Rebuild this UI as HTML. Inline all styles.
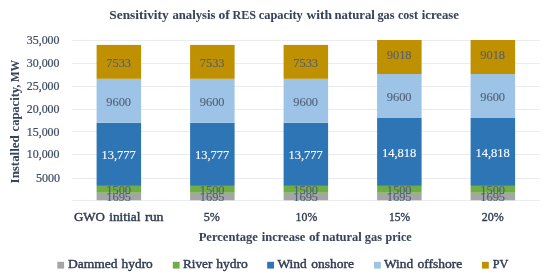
<!DOCTYPE html>
<html><head><meta charset="utf-8"><title>Sensitivity analysis of RES capacity</title>
<style>
html,body{margin:0;padding:0;background:#fff;}
svg{display:block;font-family:"Liberation Serif","DejaVu Serif",serif;}
</style></head><body>
<svg width="550" height="280" viewBox="0 0 550 280">
<rect width="550" height="280" fill="#fff"/>
<rect x="72.1" y="200" width="467.5" height="1" fill="#E9ECF1"/>
<rect x="72.1" y="178" width="467.5" height="1" fill="#E9ECF1"/>
<rect x="72.1" y="154" width="467.5" height="1" fill="#E9ECF1"/>
<rect x="72.1" y="131" width="467.5" height="1" fill="#E9ECF1"/>
<rect x="72.1" y="109" width="467.5" height="1" fill="#E9ECF1"/>
<rect x="72.1" y="86" width="467.5" height="1" fill="#E9ECF1"/>
<rect x="72.1" y="63" width="467.5" height="1" fill="#E9ECF1"/>
<rect x="72.1" y="40" width="467.5" height="1" fill="#E9ECF1"/>
<text y="181.90" font-size="12" fill="#3E4C63" stroke="#3E4C63" stroke-width="0.22"><tspan x="36.0" textLength="24.0" lengthAdjust="spacingAndGlyphs">5000</tspan></text>
<text y="158.40" font-size="12" fill="#3E4C63" stroke="#3E4C63" stroke-width="0.22"><tspan x="26.8" textLength="32.7" lengthAdjust="spacingAndGlyphs">10,000</tspan></text>
<text y="135.50" font-size="12" fill="#3E4C63" stroke="#3E4C63" stroke-width="0.22"><tspan x="26.8" textLength="32.7" lengthAdjust="spacingAndGlyphs">15,000</tspan></text>
<text y="112.60" font-size="12" fill="#3E4C63" stroke="#3E4C63" stroke-width="0.22"><tspan x="26.8" textLength="32.7" lengthAdjust="spacingAndGlyphs">20,000</tspan></text>
<text y="89.70" font-size="12" fill="#3E4C63" stroke="#3E4C63" stroke-width="0.22"><tspan x="26.8" textLength="32.7" lengthAdjust="spacingAndGlyphs">25,000</tspan></text>
<text y="66.80" font-size="12" fill="#3E4C63" stroke="#3E4C63" stroke-width="0.22"><tspan x="26.8" textLength="32.7" lengthAdjust="spacingAndGlyphs">30,000</tspan></text>
<text y="43.90" font-size="12" fill="#3E4C63" stroke="#3E4C63" stroke-width="0.22"><tspan x="26.8" textLength="32.7" lengthAdjust="spacingAndGlyphs">35,000</tspan></text>
<clipPath id="pc"><rect x="72.1" y="39.900000000000006" width="467.5" height="160.60000000000002"/></clipPath>
<g clip-path="url(#pc)">
<rect x="96.60" y="192.74" width="44.5" height="7.76" fill="#A5A5A5"/>
<rect x="96.60" y="185.87" width="44.5" height="6.87" fill="#70AD47"/>
<rect x="96.60" y="122.77" width="44.5" height="63.10" fill="#2E75B6"/>
<rect x="96.60" y="78.80" width="44.5" height="43.97" fill="#9DC3E6"/>
<rect x="96.60" y="44.90" width="44.5" height="33.90" fill="#BF9000"/>
<rect x="190.10" y="192.74" width="44.5" height="7.76" fill="#A5A5A5"/>
<rect x="190.10" y="185.87" width="44.5" height="6.87" fill="#70AD47"/>
<rect x="190.10" y="122.77" width="44.5" height="63.10" fill="#2E75B6"/>
<rect x="190.10" y="78.80" width="44.5" height="43.97" fill="#9DC3E6"/>
<rect x="190.10" y="44.90" width="44.5" height="33.90" fill="#BF9000"/>
<rect x="283.60" y="192.74" width="44.5" height="7.76" fill="#A5A5A5"/>
<rect x="283.60" y="185.87" width="44.5" height="6.87" fill="#70AD47"/>
<rect x="283.60" y="122.77" width="44.5" height="63.10" fill="#2E75B6"/>
<rect x="283.60" y="78.80" width="44.5" height="43.97" fill="#9DC3E6"/>
<rect x="283.60" y="44.90" width="44.5" height="33.90" fill="#BF9000"/>
<rect x="377.10" y="192.74" width="44.5" height="7.76" fill="#A5A5A5"/>
<rect x="377.10" y="185.87" width="44.5" height="6.87" fill="#70AD47"/>
<rect x="377.10" y="118.00" width="44.5" height="67.87" fill="#2E75B6"/>
<rect x="377.10" y="74.03" width="44.5" height="43.97" fill="#9DC3E6"/>
<rect x="377.10" y="32.73" width="44.5" height="41.30" fill="#BF9000"/>
<rect x="470.60" y="192.74" width="44.5" height="7.76" fill="#A5A5A5"/>
<rect x="470.60" y="185.87" width="44.5" height="6.87" fill="#70AD47"/>
<rect x="470.60" y="118.00" width="44.5" height="67.87" fill="#2E75B6"/>
<rect x="470.60" y="74.03" width="44.5" height="43.97" fill="#9DC3E6"/>
<rect x="470.60" y="32.73" width="44.5" height="41.30" fill="#BF9000"/>
</g>
<text y="201.42" font-size="12.4" fill="#52617A" stroke="#52617A" stroke-width="0.12"><tspan x="106.2" textLength="24.9" lengthAdjust="spacingAndGlyphs">1695</tspan></text>
<text y="194.10" font-size="12.4" fill="#52617A" stroke="#52617A" stroke-width="0.12"><tspan x="106.2" textLength="24.9" lengthAdjust="spacingAndGlyphs">1500</tspan></text>
<text y="159.12" font-size="12.4" fill="#FFFFFF" stroke="#FFFFFF" stroke-width="0.1"><tspan x="101.4" textLength="34.5" lengthAdjust="spacingAndGlyphs">13,777</tspan></text>
<text y="105.58" font-size="12.4" fill="#52617A" stroke="#52617A" stroke-width="0.12"><tspan x="106.2" textLength="24.9" lengthAdjust="spacingAndGlyphs">9600</tspan></text>
<text y="66.65" font-size="12.4" fill="#52617A" stroke="#52617A" stroke-width="0.12"><tspan x="106.2" textLength="24.9" lengthAdjust="spacingAndGlyphs">7533</tspan></text>
<text y="201.42" font-size="12.4" fill="#52617A" stroke="#52617A" stroke-width="0.12"><tspan x="199.7" textLength="24.9" lengthAdjust="spacingAndGlyphs">1695</tspan></text>
<text y="194.10" font-size="12.4" fill="#52617A" stroke="#52617A" stroke-width="0.12"><tspan x="199.7" textLength="24.9" lengthAdjust="spacingAndGlyphs">1500</tspan></text>
<text y="159.12" font-size="12.4" fill="#FFFFFF" stroke="#FFFFFF" stroke-width="0.1"><tspan x="194.9" textLength="34.5" lengthAdjust="spacingAndGlyphs">13,777</tspan></text>
<text y="105.58" font-size="12.4" fill="#52617A" stroke="#52617A" stroke-width="0.12"><tspan x="199.7" textLength="24.9" lengthAdjust="spacingAndGlyphs">9600</tspan></text>
<text y="66.65" font-size="12.4" fill="#52617A" stroke="#52617A" stroke-width="0.12"><tspan x="199.7" textLength="24.9" lengthAdjust="spacingAndGlyphs">7533</tspan></text>
<text y="201.42" font-size="12.4" fill="#52617A" stroke="#52617A" stroke-width="0.12"><tspan x="293.2" textLength="24.9" lengthAdjust="spacingAndGlyphs">1695</tspan></text>
<text y="194.10" font-size="12.4" fill="#52617A" stroke="#52617A" stroke-width="0.12"><tspan x="293.2" textLength="24.9" lengthAdjust="spacingAndGlyphs">1500</tspan></text>
<text y="159.12" font-size="12.4" fill="#FFFFFF" stroke="#FFFFFF" stroke-width="0.1"><tspan x="288.4" textLength="34.5" lengthAdjust="spacingAndGlyphs">13,777</tspan></text>
<text y="105.58" font-size="12.4" fill="#52617A" stroke="#52617A" stroke-width="0.12"><tspan x="293.2" textLength="24.9" lengthAdjust="spacingAndGlyphs">9600</tspan></text>
<text y="66.65" font-size="12.4" fill="#52617A" stroke="#52617A" stroke-width="0.12"><tspan x="293.2" textLength="24.9" lengthAdjust="spacingAndGlyphs">7533</tspan></text>
<text y="201.42" font-size="12.4" fill="#52617A" stroke="#52617A" stroke-width="0.12"><tspan x="386.7" textLength="24.9" lengthAdjust="spacingAndGlyphs">1695</tspan></text>
<text y="194.10" font-size="12.4" fill="#52617A" stroke="#52617A" stroke-width="0.12"><tspan x="386.7" textLength="24.9" lengthAdjust="spacingAndGlyphs">1500</tspan></text>
<text y="156.73" font-size="12.4" fill="#FFFFFF" stroke="#FFFFFF" stroke-width="0.1"><tspan x="381.9" textLength="34.5" lengthAdjust="spacingAndGlyphs">14,818</tspan></text>
<text y="100.82" font-size="12.4" fill="#52617A" stroke="#52617A" stroke-width="0.12"><tspan x="386.7" textLength="24.9" lengthAdjust="spacingAndGlyphs">9600</tspan></text>
<text y="59.18" font-size="12.4" fill="#52617A" stroke="#52617A" stroke-width="0.12"><tspan x="386.7" textLength="24.9" lengthAdjust="spacingAndGlyphs">9018</tspan></text>
<text y="201.42" font-size="12.4" fill="#52617A" stroke="#52617A" stroke-width="0.12"><tspan x="480.2" textLength="24.9" lengthAdjust="spacingAndGlyphs">1695</tspan></text>
<text y="194.10" font-size="12.4" fill="#52617A" stroke="#52617A" stroke-width="0.12"><tspan x="480.2" textLength="24.9" lengthAdjust="spacingAndGlyphs">1500</tspan></text>
<text y="156.73" font-size="12.4" fill="#FFFFFF" stroke="#FFFFFF" stroke-width="0.1"><tspan x="475.4" textLength="34.5" lengthAdjust="spacingAndGlyphs">14,818</tspan></text>
<text y="100.82" font-size="12.4" fill="#52617A" stroke="#52617A" stroke-width="0.12"><tspan x="480.2" textLength="24.9" lengthAdjust="spacingAndGlyphs">9600</tspan></text>
<text y="59.18" font-size="12.4" fill="#52617A" stroke="#52617A" stroke-width="0.12"><tspan x="480.2" textLength="24.9" lengthAdjust="spacingAndGlyphs">9018</tspan></text>
<text y="221.4" font-size="12" fill="#303C52" stroke="#303C52" stroke-width="0.4"><tspan x="74.0" textLength="31.0" lengthAdjust="spacingAndGlyphs">GWO</tspan> <tspan x="109.2" textLength="31.2" lengthAdjust="spacingAndGlyphs">initial</tspan> <tspan x="145.0" textLength="18.6" lengthAdjust="spacingAndGlyphs">run</tspan></text>
<text y="221.4" font-size="12" fill="#303C52" stroke="#303C52" stroke-width="0.35"><tspan x="203.8" textLength="16.2" lengthAdjust="spacingAndGlyphs">5%</tspan></text>
<text y="221.4" font-size="12" fill="#303C52" stroke="#303C52" stroke-width="0.35"><tspan x="295.6" textLength="21.6" lengthAdjust="spacingAndGlyphs">10%</tspan></text>
<text y="221.4" font-size="12" fill="#303C52" stroke="#303C52" stroke-width="0.35"><tspan x="389.0" textLength="21.2" lengthAdjust="spacingAndGlyphs">15%</tspan></text>
<text y="221.4" font-size="12" fill="#303C52" stroke="#303C52" stroke-width="0.35"><tspan x="481.8" textLength="22.0" lengthAdjust="spacingAndGlyphs">20%</tspan></text>
<text y="19" font-size="12" fill="#37445A" font-weight="bold" stroke="#37445A" stroke-width="0.05"><tspan x="109.3" textLength="59.4" lengthAdjust="spacingAndGlyphs">Sensitivity</tspan> <tspan x="172.4" textLength="43.1" lengthAdjust="spacingAndGlyphs">analysis</tspan> <tspan x="218.5" textLength="11.3" lengthAdjust="spacingAndGlyphs">of</tspan> <tspan x="232.5" textLength="23.5" lengthAdjust="spacingAndGlyphs">RES</tspan> <tspan x="258.8" textLength="44.0" lengthAdjust="spacingAndGlyphs">capacity</tspan> <tspan x="306.5" textLength="25.5" lengthAdjust="spacingAndGlyphs">with</tspan> <tspan x="334.5" textLength="40.3" lengthAdjust="spacingAndGlyphs">natural</tspan> <tspan x="377.5" textLength="17.0" lengthAdjust="spacingAndGlyphs">gas</tspan> <tspan x="398.0" textLength="20.0" lengthAdjust="spacingAndGlyphs">cost</tspan> <tspan x="421.8" textLength="37.1" lengthAdjust="spacingAndGlyphs">icrease</tspan></text>
<text y="241.0" font-size="12" fill="#37445A" font-weight="bold" stroke="#37445A" stroke-width="0.05"><tspan x="198.7" textLength="59.1" lengthAdjust="spacingAndGlyphs">Percentage</tspan> <tspan x="261.8" textLength="43.5" lengthAdjust="spacingAndGlyphs">increase</tspan> <tspan x="309.0" textLength="11.0" lengthAdjust="spacingAndGlyphs">of</tspan> <tspan x="322.2" textLength="39.6" lengthAdjust="spacingAndGlyphs">natural</tspan> <tspan x="364.8" textLength="17.2" lengthAdjust="spacingAndGlyphs">gas</tspan> <tspan x="385.5" textLength="26.1" lengthAdjust="spacingAndGlyphs">price</tspan></text>
<text y="0" font-size="12" fill="#37445A" font-weight="bold" stroke="#37445A" stroke-width="0.05" transform="translate(18.8,183.4) rotate(-90)"><tspan x="0.0" textLength="48.1" lengthAdjust="spacingAndGlyphs">Installed</tspan> <tspan x="52.0" textLength="46.9" lengthAdjust="spacingAndGlyphs">capacity,</tspan> <tspan x="101.1" textLength="22.5" lengthAdjust="spacingAndGlyphs">MW</tspan></text>
<rect x="57.3" y="261.8" width="6.8" height="6.8" fill="#A5A5A5"/>
<text y="268.4" font-size="12" fill="#303C52" stroke="#303C52" stroke-width="0.4"><tspan x="67.9" textLength="49.7" lengthAdjust="spacingAndGlyphs">Dammed</tspan> <tspan x="121.6" textLength="31.2" lengthAdjust="spacingAndGlyphs">hydro</tspan></text>
<rect x="172.8" y="261.8" width="6.8" height="6.8" fill="#70AD47"/>
<text y="268.4" font-size="12" fill="#303C52" stroke="#303C52" stroke-width="0.4"><tspan x="183.0" textLength="29.3" lengthAdjust="spacingAndGlyphs">River</tspan> <tspan x="216.2" textLength="31.6" lengthAdjust="spacingAndGlyphs">hydro</tspan></text>
<rect x="267.2" y="261.8" width="6.8" height="6.8" fill="#2E75B6"/>
<text y="268.4" font-size="12" fill="#303C52" stroke="#303C52" stroke-width="0.4"><tspan x="277.4" textLength="29.4" lengthAdjust="spacingAndGlyphs">Wind</tspan> <tspan x="311.2" textLength="42.8" lengthAdjust="spacingAndGlyphs">onshore</tspan></text>
<rect x="374.0" y="261.8" width="6.8" height="6.8" fill="#9DC3E6"/>
<text y="268.4" font-size="12" fill="#303C52" stroke="#303C52" stroke-width="0.4"><tspan x="384.0" textLength="29.2" lengthAdjust="spacingAndGlyphs">Wind</tspan> <tspan x="417.5" textLength="44.7" lengthAdjust="spacingAndGlyphs">offshore</tspan></text>
<rect x="482.0" y="261.8" width="6.8" height="6.8" fill="#BF9000"/>
<text y="268.4" font-size="12" fill="#303C52" stroke="#303C52" stroke-width="0.4"><tspan x="492.7" textLength="15.6" lengthAdjust="spacingAndGlyphs">PV</tspan></text>
</svg>
</body></html>
